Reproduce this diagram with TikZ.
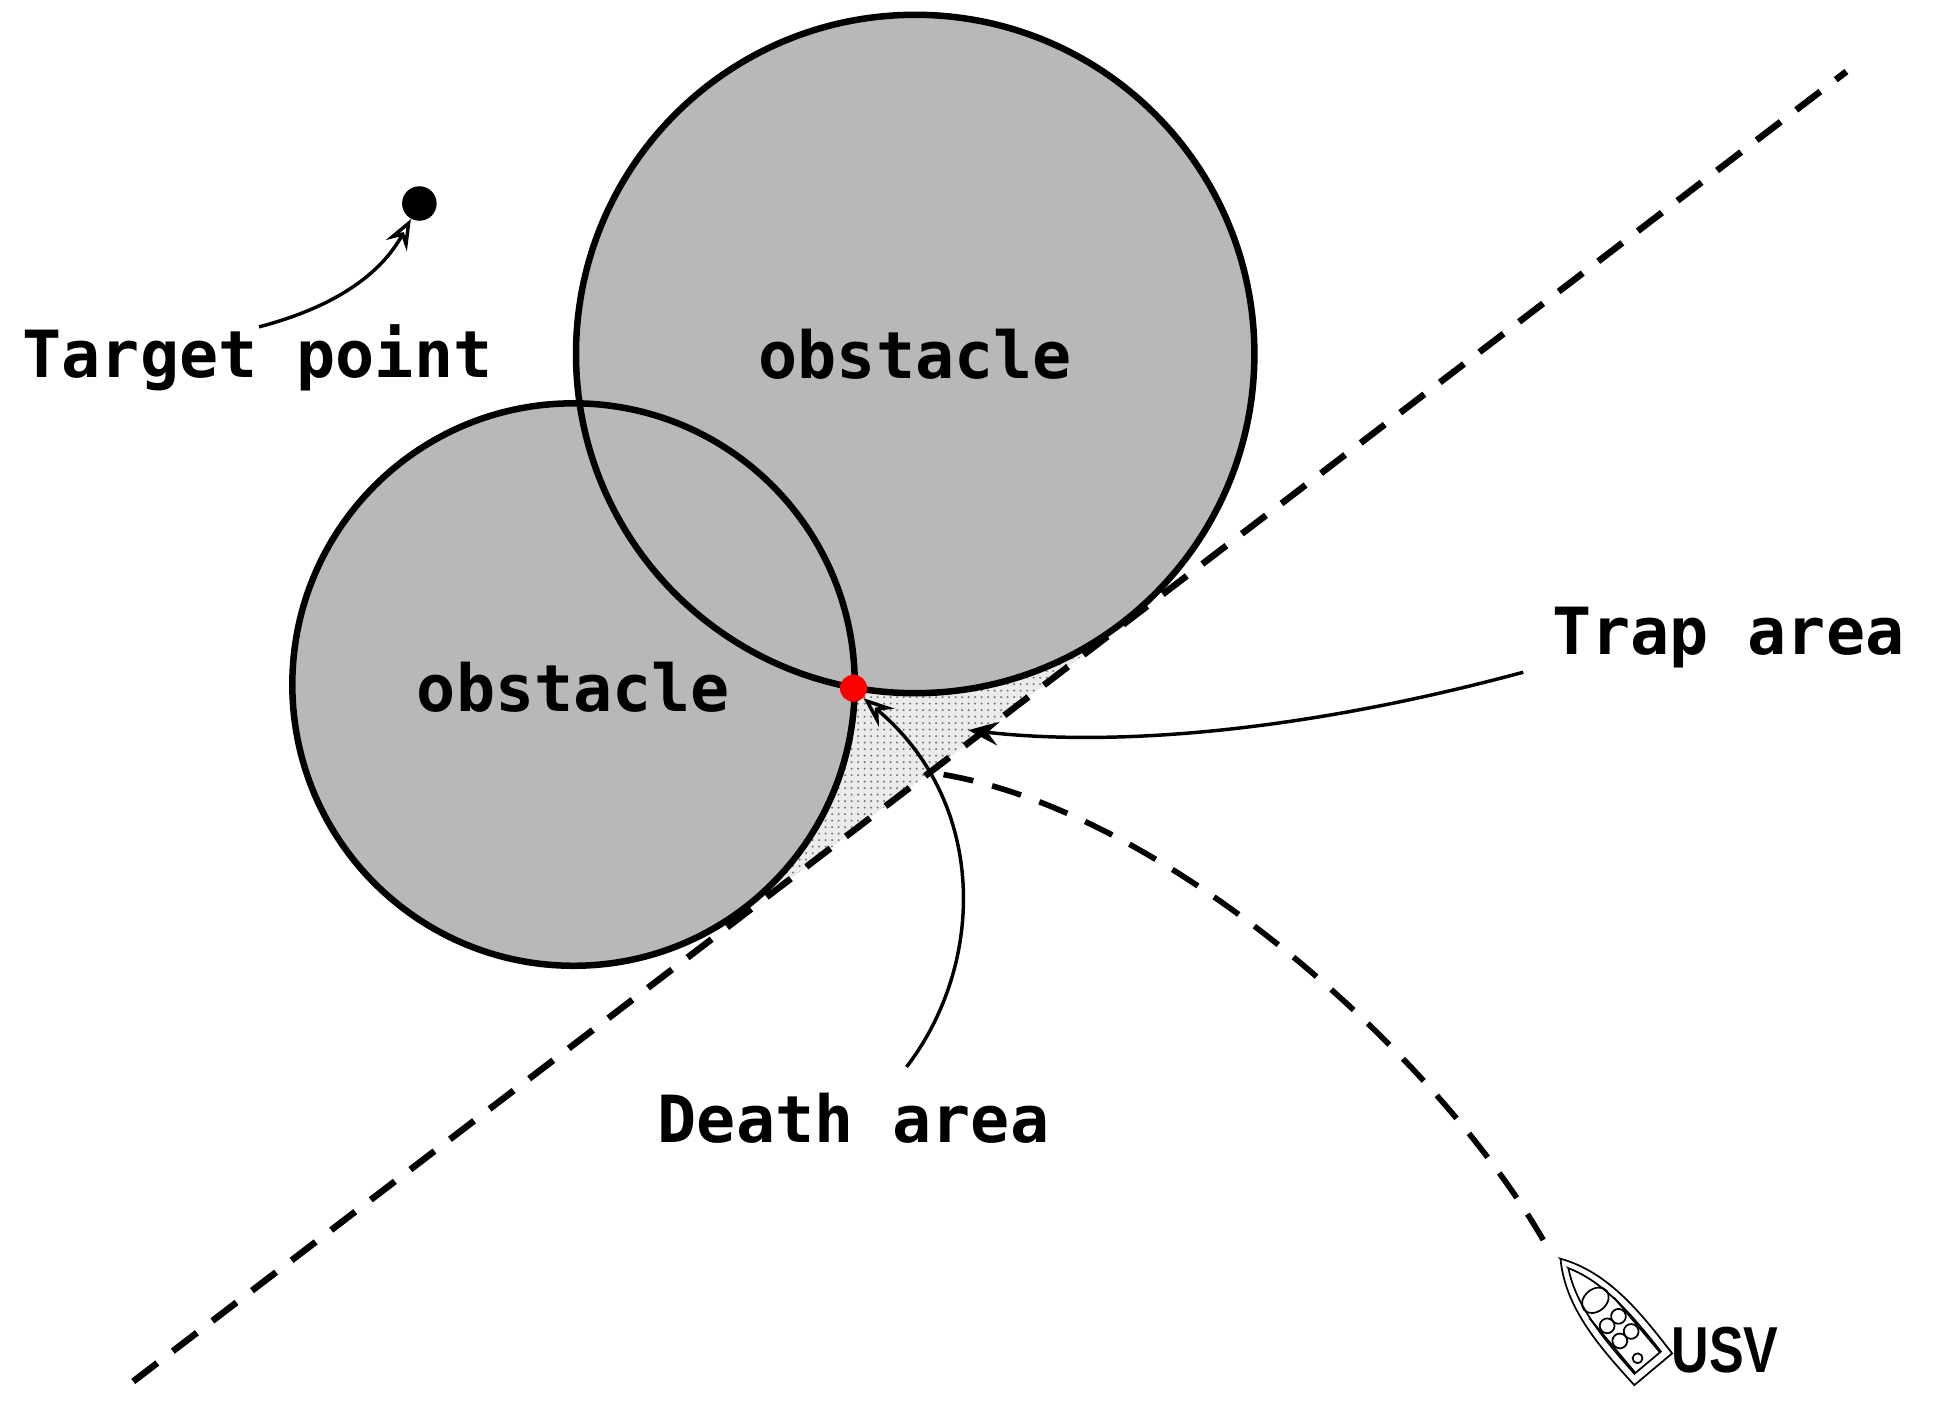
\documentclass[tikz,border=0pt]{standalone}
\usepackage{fontspec}
\setmonofont{DejaVu Sans Mono}
\setsansfont{Liberation Sans}
\usetikzlibrary{patterns,arrows.meta}
\begin{document}
\begin{tikzpicture}[x=0.02cm,y=-0.02cm,
  obst/.style={fill=black!28,circle,inner sep=0},
  ring/.style={draw=black,line width=3pt},
  lbl/.style={font=\ttfamily\bfseries\fontsize{30}{32}\selectfont,inner sep=0pt},
  dashln/.style={dash pattern=on 14pt off 9pt,line width=3pt},
  arr/.style={line width=1.6pt,-{Stealth[length=14pt,width=11pt,inset=5pt,open]}}]
\useasboundingbox (0,0) rectangle (1568,1145);
% trap area
\fill[black!8] (692,558) -- (900,514.5) -- (620,728.5) -- cycle;
\fill[pattern=dots,pattern color=black!55] (692,558) -- (900,514.5) -- (620,728.5) -- cycle;
% circles
\node[obst,minimum size=456*0.02cm] (c2) at (465,555) {};
\node[obst,minimum size=550*0.02cm] (c1) at (742,287) {};
\draw[ring] (c2.center) circle[radius=228];
\draw[ring] (c1.center) circle[radius=275];
% dashed tangent line
\coordinate (l1) at (108,1120);
\coordinate (l2) at (1497,58);
\draw[dashln] (l1) -- (l2);
% red point
\node[circle,fill=red,minimum size=22*0.02cm,inner sep=0] (red) at (692,558) {};
% target
\node[circle,fill=black,minimum size=28*0.02cm,inner sep=0] (tgt) at (340,165) {};
\node[lbl,anchor=west] (tl) at (18,290) {Target point};
\coordinate (ta) at (210,265);
\draw[arr] (ta) .. controls (275,248) and (310,220) .. (tgt);
% obstacle labels
\node[lbl] (o1) at (742,287) {obstacle};
\node[lbl] (o2) at (465,557) {obstacle};
% trap label
\node[lbl,anchor=west] (trl) at (1258,517) {Trap area};
\coordinate (tra) at (1235,545);
\coordinate (trt) at (785,592);
\draw[arr] (tra) .. controls (1050,595) and (900,605) .. (trt);
% death label
\node[lbl] (dl) at (692,907) {Death area};
\coordinate (da) at (735,865);
\coordinate (dt) at (700,566);
\draw[arr] (da) .. controls (800,780) and (800,650) .. (dt);
% USV path
\coordinate (p0) at (765,628);
\coordinate (p1) at (1255,1012);
\draw[dashln,line width=2.6pt] (p0) .. controls (950,660) and (1170,860) .. (p1);
% boat
\begin{scope}[shift={(1305,1068)},rotate=-50,line width=0.8pt]
\draw (-62,0) .. controls (-30,-22) and (10,-22) .. (55,-20) -- (55,20) .. controls (10,22) and (-30,22) .. cycle;
\draw (-52,0) .. controls (-25,-15) and (10,-15) .. (48,-14) -- (48,14) .. controls (10,15) and (-25,15) .. cycle;
\draw (-18,0) ellipse (9 and 12);
\draw (4,-6) circle (6); \draw (4,6) circle (6);
\draw (20,-6) circle (6); \draw (20,6) circle (6);
\draw (40,4) circle (4);
\draw (-10,-13) -- (48,-13); \draw (-10,13) -- (48,13);
\end{scope}
\node[font=\sffamily\bfseries\fontsize{30}{32}\selectfont,xscale=0.8,inner sep=0,anchor=west] (usv) at (1355,1095) {USV};
\end{tikzpicture}
\end{document}
